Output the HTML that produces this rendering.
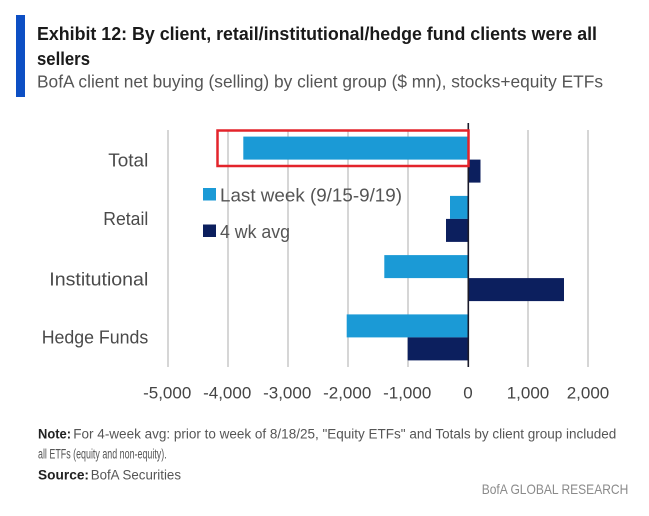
<!DOCTYPE html>
<html>
<head>
<meta charset="utf-8">
<style>
  html, body { margin: 0; padding: 0; background: #ffffff; }
  svg { display: block; font-family: "Liberation Sans", "DejaVu Sans", sans-serif; }
</style>
</head>
<body>
<svg width="649" height="516" viewBox="0 0 649 516" xmlns="http://www.w3.org/2000/svg">
  <rect x="0" y="0" width="649" height="516" fill="#ffffff"/>

  <!-- Header -->
  <rect x="16" y="15" width="9" height="82" fill="#0d4fc4"/>
  <text x="37" y="40" font-size="18" font-weight="bold" fill="#1a1a1a" textLength="560" lengthAdjust="spacingAndGlyphs">Exhibit 12: By client, retail/institutional/hedge fund clients were all</text>
  <text x="37" y="65" font-size="18" font-weight="bold" fill="#1a1a1a" textLength="53" lengthAdjust="spacingAndGlyphs">sellers</text>
  <text x="37" y="87.5" font-size="17.5" fill="#555555" textLength="566" lengthAdjust="spacingAndGlyphs">BofA client net buying (selling) by client group ($ mn), stocks+equity ETFs</text>

  <!-- Gridlines -->
  <g stroke="#c9c9c9" stroke-width="1.5">
    <line x1="168" y1="130" x2="168" y2="367"/>
    <line x1="228" y1="130" x2="228" y2="367"/>
    <line x1="288" y1="130" x2="288" y2="367"/>
    <line x1="348" y1="130" x2="348" y2="367"/>
    <line x1="408" y1="130" x2="408" y2="367"/>
    <line x1="528" y1="130" x2="528" y2="367"/>
    <line x1="588" y1="130" x2="588" y2="367"/>
  </g>

  <!-- Bars: light = last week, dark = 4wk avg; x = 468 + v*0.06 -->
  <g>
    <!-- Total -->
    <rect x="243.3" y="136.6" width="224.7" height="23" fill="#1b9ad6"/>
    <rect x="468" y="159.6" width="12.5" height="23" fill="#0c1f5e"/>
    <!-- Retail -->
    <rect x="450" y="195.9" width="18" height="23" fill="#1b9ad6"/>
    <rect x="446" y="218.9" width="22" height="23" fill="#0c1f5e"/>
    <!-- Institutional -->
    <rect x="384.3" y="255.1" width="83.7" height="23" fill="#1b9ad6"/>
    <rect x="468" y="278.1" width="96" height="23" fill="#0c1f5e"/>
    <!-- Hedge Funds -->
    <rect x="346.7" y="314.4" width="121.3" height="23" fill="#1b9ad6"/>
    <rect x="407.7" y="337.4" width="60.3" height="23" fill="#0c1f5e"/>
  </g>

  <!-- Zero axis -->
  <line x1="468.3" y1="123" x2="468.3" y2="367" stroke="#1a1a2a" stroke-width="1.6"/>

  <!-- Red highlight box -->
  <rect x="217.5" y="130.5" width="251" height="35.5" fill="none" stroke="#e3242b" stroke-width="2.5"/>

  <!-- Legend -->
  <rect x="203" y="188" width="13" height="12.5" fill="#1b9ad6"/>
  <text x="220" y="201.5" font-size="18" fill="#555555" textLength="182" lengthAdjust="spacingAndGlyphs">Last week (9/15-9/19)</text>
  <rect x="203" y="224.5" width="13" height="12.5" fill="#0c1f5e"/>
  <text x="220" y="238" font-size="18" fill="#555555" textLength="70" lengthAdjust="spacingAndGlyphs">4 wk avg</text>

  <!-- Category labels -->
  <g font-size="18" fill="#4a4a4a" text-anchor="end">
    <text x="148.3" y="166.5" textLength="40" lengthAdjust="spacingAndGlyphs">Total</text>
    <text x="148.3" y="225" textLength="45" lengthAdjust="spacingAndGlyphs">Retail</text>
    <text x="148.3" y="285.5" textLength="99" lengthAdjust="spacingAndGlyphs">Institutional</text>
    <text x="148.3" y="343.3" textLength="106.6" lengthAdjust="spacingAndGlyphs">Hedge Funds</text>
  </g>

  <!-- Tick labels -->
  <g font-size="17" fill="#444444" text-anchor="middle">
    <text x="167.2" y="398.5">-5,000</text>
    <text x="227.2" y="398.5">-4,000</text>
    <text x="287.2" y="398.5">-3,000</text>
    <text x="347.2" y="398.5">-2,000</text>
    <text x="407.2" y="398.5">-1,000</text>
    <text x="468" y="398.5">0</text>
    <text x="528" y="398.5">1,000</text>
    <text x="588" y="398.5">2,000</text>
  </g>

  <!-- Footer -->
  <text x="38" y="438.3" font-size="13.5" font-weight="bold" fill="#222222" textLength="33" lengthAdjust="spacingAndGlyphs">Note:</text>
  <text x="73.3" y="438.3" font-size="13.5" fill="#555555" textLength="543" lengthAdjust="spacingAndGlyphs">For 4-week avg: prior to week of 8/18/25, "Equity ETFs" and Totals by client group included</text>
  <text x="38" y="458.3" font-size="13.5" fill="#555555" textLength="128.7" lengthAdjust="spacingAndGlyphs">all ETFs (equity and non-equity).</text>
  <text x="38" y="479.3" font-size="13.5" font-weight="bold" fill="#222222" textLength="51" lengthAdjust="spacingAndGlyphs">Source:</text>
  <text x="90.7" y="479.3" font-size="13.5" fill="#555555" textLength="90.3" lengthAdjust="spacingAndGlyphs">BofA Securities</text>
  <text x="481.7" y="494" font-size="14" fill="#8a8a8a" textLength="146.6" lengthAdjust="spacingAndGlyphs">BofA GLOBAL RESEARCH</text>
</svg>
</body>
</html>
